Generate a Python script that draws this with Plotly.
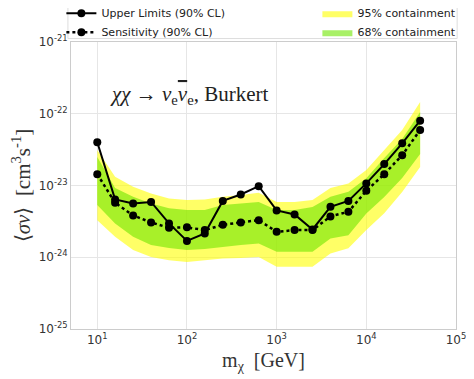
import plotly.graph_objects as go

# ---- data ----
mass = [10, 15.8, 25.1, 39.8, 63.1, 100, 158, 251, 398, 631, 1000, 1585,
        2512, 3981, 6310, 10000, 15849, 25119, 39811]

upper_limits = [4.0e-23, 6.4e-24, 5.6e-24, 5.9e-24, 2.96e-24, 1.69e-24, 2.15e-24,
                6.1e-24, 7.5e-24, 9.8e-24, 4.5e-24, 3.95e-24, 2.44e-24, 5.05e-24,
                6.1e-24, 1.07e-23, 1.99e-23, 3.87e-23, 8.0e-23]

sensitivity = [1.44e-23, 5.74e-24, 3.83e-24, 3.06e-24, 2.57e-24, 2.61e-24, 2.39e-24,
               2.83e-24, 3.06e-24, 3.29e-24, 2.26e-24, 2.39e-24, 2.39e-24, 3.71e-24,
               4.30e-24, 8.44e-24, 1.44e-23, 2.65e-23, 5.93e-23]

band95_hi = [3.12e-23, 1.32e-23, 9.6e-24, 7.76e-24, 6.6e-24, 6.26e-24, 6.4e-24,
             6.96e-24, 7.35e-24, 7.9e-24, 5.9e-24, 5.9e-24, 6.26e-24, 9.2e-24,
             1.07e-23, 1.64e-23, 3.12e-23, 5.93e-23, 1.46e-22]
band68_hi = [2.49e-23, 9.2e-24, 6.96e-24, 5.63e-24, 4.8e-24, 4.54e-24, 4.54e-24,
             5.33e-24, 5.63e-24, 5.9e-24, 4.54e-24, 4.54e-24, 5.0e-24, 6.96e-24,
             8.2e-24, 1.26e-23, 2.41e-23, 4.44e-23, 1.06e-22]
band68_lo = [5.33e-24, 2.96e-24, 1.93e-24, 1.48e-24, 1.35e-24, 1.26e-24, 1.30e-24,
             1.40e-24, 1.48e-24, 1.56e-24, 1.19e-24, 1.19e-24, 1.19e-24, 1.83e-24,
             2.03e-24, 4.08e-24, 6.9e-24, 1.27e-23, 2.74e-23]
band95_lo = [3.29e-24, 1.93e-24, 1.26e-24, 1.01e-24, 9.1e-25, 8.6e-25, 9.1e-25,
             9.6e-25, 9.8e-25, 1.01e-24, 7.35e-25, 7.35e-25, 7.35e-25, 1.13e-24,
             1.33e-24, 2.39e-24, 4.12e-24, 8.1e-24, 1.81e-23]

x_tickvals = [10, 100, 1000, 10000, 100000]
x_ticktext = ["10<sup>1</sup>", "10<sup>2</sup>", "10<sup>3</sup>", "10<sup>4</sup>", "10<sup>5</sup>"]
y_tickvals = [1e-25, 1e-24, 1e-23, 1e-22, 1e-21]
y_ticktext = ["10<sup>-25</sup>", "10<sup>-24</sup>", "10<sup>-23</sup>", "10<sup>-22</sup>", "10<sup>-21</sup>"]

YELLOW = "rgba(255,255,0,0.6)"
GREEN = "rgba(110,230,0,0.6)"

fig = go.Figure()

# 95% band
fig.add_trace(go.Scatter(x=mass, y=band95_lo, mode="lines", line=dict(width=0),
                         showlegend=False, hoverinfo="skip", legend="legend2"))
fig.add_trace(go.Scatter(x=mass, y=band95_hi, mode="lines", line=dict(width=0),
                         fill="tonexty", fillcolor=YELLOW, name="95% containment",
                         legend="legend2", legendrank=1))
# 68% band
fig.add_trace(go.Scatter(x=mass, y=band68_lo, mode="lines", line=dict(width=0),
                         showlegend=False, hoverinfo="skip", legend="legend2"))
fig.add_trace(go.Scatter(x=mass, y=band68_hi, mode="lines", line=dict(width=0),
                         fill="tonexty", fillcolor=GREEN, name="68% containment",
                         legend="legend2", legendrank=2))

# lines
fig.add_trace(go.Scatter(x=mass, y=upper_limits, mode="lines+markers",
                         line=dict(color="black", width=2),
                         marker=dict(color="black", size=8),
                         name="Upper Limits (90% CL)", legend="legend", legendrank=1))
fig.add_trace(go.Scatter(x=mass, y=sensitivity, mode="lines+markers",
                         line=dict(color="black", width=2.5, dash="dot"),
                         marker=dict(color="black", size=8),
                         name="Sensitivity (90% CL)", legend="legend", legendrank=2))

axis_common = dict(
    showgrid=True, gridcolor="#e6e6e6", gridwidth=1,
    showline=True, linecolor="#cccccc", linewidth=1, mirror=True,
    ticks="", zeroline=False,
    tickfont=dict(family="DejaVu Sans", size=12, color="#333333"),
)

fig.update_xaxes(type="log", range=[0.707, 5], tickvals=x_tickvals, ticktext=x_ticktext,
                 title=dict(text="m<sub>χ</sub>  [GeV]",
                            font=dict(family="Liberation Serif", size=20, color="#333333"),
                            standoff=6),
                 **axis_common)
fig.update_yaxes(type="log", range=[-25, -21], tickvals=y_tickvals, ticktext=y_ticktext,
                 title=dict(text="⟨<i>σv</i>⟩  [cm<sup>3</sup>s<sup>-1</sup>]",
                            font=dict(family="Liberation Serif", size=21, color="#333333"),
                            standoff=4),
                 **axis_common)

fig.add_annotation(xref="paper", yref="paper", x=0.096, y=0.815, xanchor="left",
                   yanchor="middle", showarrow=False,
                   text="<i>χχ</i> → <i>ν</i><sub>e</sub><span style='text-decoration:overline'><i>ν</i></span><sub>e</sub>, Burkert",
                   font=dict(family="Liberation Serif", size=21, color="#222222"))

# legend frame
fig.add_shape(type="rect", xref="paper", yref="paper", x0=-0.008, x1=1.003,
              y0=1.012, y1=1.132, line=dict(color="#dddddd", width=1),
              fillcolor="rgba(0,0,0,0)", layer="below")

# the page body adds an 8px offset; sizes/margins compensate so the plot area
# lands at x 71..456, y 42..329 in the 474x379 window
fig.update_layout(
    width=466, height=371,
    margin=dict(l=63, r=18, t=34, b=50, autoexpand=False),
    plot_bgcolor="white", paper_bgcolor="white",
    legend=dict(x=-0.025, y=1.151, xanchor="left", yanchor="top",
                bgcolor="rgba(0,0,0,0)", font=dict(family="DejaVu Sans", size=11, color="#222222"),
                tracegroupgap=0, itemwidth=30, traceorder="normal"),
    legend2=dict(x=0.64, y=1.151, xanchor="left", yanchor="top",
                 bgcolor="rgba(0,0,0,0)", font=dict(family="DejaVu Sans", size=11, color="#222222"),
                 tracegroupgap=0, itemwidth=30, traceorder="normal"),
)

fig.write_html("out.html")
